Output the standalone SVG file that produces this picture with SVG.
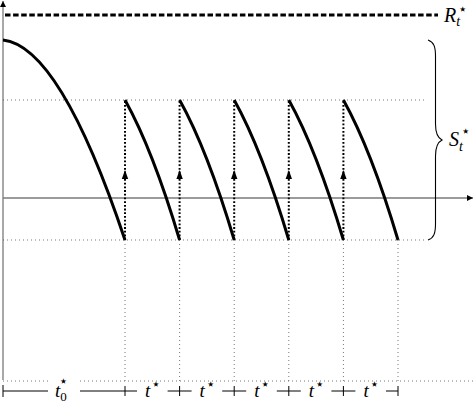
<svg xmlns="http://www.w3.org/2000/svg" width="474" height="413" viewBox="0 0 474 413">
<defs>
<style>
.axis{stroke:#7a7a7a;stroke-width:1.3;fill:none}
.curve{stroke:#000;stroke-width:3;fill:none;stroke-linecap:butt}
.thin{stroke:#555;stroke-width:0.9;fill:none;stroke-dasharray:0.9 3.1}
.jump{stroke:#000;stroke-width:2;fill:none;stroke-dasharray:1.8 1.9}
.tl{stroke:#000;stroke-width:1;fill:none}
.lbl{font-family:"Liberation Serif","DejaVu Serif",serif;font-style:italic;fill:#000}
.st{font-family:"DejaVu Sans",sans-serif;font-style:normal;font-size:15px}
</style>
<marker id="ah" viewBox="0 0 10 10" refX="10" refY="5" markerWidth="6" markerHeight="6" markerUnits="userSpaceOnUse" orient="auto">
<path d="M0,0 L10,5 L0,10 Z" fill="#000"/>
</marker>
<path id="up" d="M0,0 L-3.2,9 L3.2,9 Z" fill="#000"/>
</defs>

<g id="axes">
<line class="axis" x1="3" y1="380" x2="3" y2="1" marker-end="url(#ah)"/>
<line class="axis" x1="3" y1="198" x2="473" y2="198" marker-end="url(#ah)"/>
</g>

<g id="guides">
<line class="thin" x1="3" y1="100" x2="426" y2="100"/>
<line class="thin" x1="3" y1="240" x2="426" y2="240"/>
<line class="thin" x1="125" y1="240" x2="125" y2="381"/>
<line class="thin" x1="179.6" y1="240" x2="179.6" y2="381"/>
<line class="thin" x1="234.2" y1="240" x2="234.2" y2="381"/>
<line class="thin" x1="288.8" y1="240" x2="288.8" y2="381"/>
<line class="thin" x1="343.4" y1="240" x2="343.4" y2="381"/>
<line class="thin" x1="398" y1="240" x2="398" y2="381"/>
<line class="thin" x1="3" y1="381" x2="50" y2="381"/>
<line class="thin" x1="80" y1="381" x2="474" y2="381"/>
</g>

<g id="R-line">
<line x1="5" y1="15" x2="438" y2="15" stroke="#000" stroke-width="3" stroke-dasharray="5.5 2.6"/>
<text class="lbl" x="444" y="22" font-size="20">R<tspan font-size="14" dy="4">t</tspan><tspan class="st" dx="-2" dy="-12">⋆</tspan></text>
</g>

<g id="curves">
<path class="curve" d="M3,40 Q60,46 125,240"/>
<path class="curve" d="M125,100 Q152.7,149.7 179.6,240"/>
<path class="curve" d="M179.6,100 Q207.3,149.7 234.2,240"/>
<path class="curve" d="M234.2,100 Q261.9,149.7 288.8,240"/>
<path class="curve" d="M288.8,100 Q316.5,149.7 343.4,240"/>
<path class="curve" d="M343.4,100 Q371.1,149.7 398,240"/>
</g>

<g id="jumps">
<line class="jump" x1="125" y1="240" x2="125" y2="100"/>
<line class="jump" x1="179.6" y1="240" x2="179.6" y2="100"/>
<line class="jump" x1="234.2" y1="240" x2="234.2" y2="100"/>
<line class="jump" x1="288.8" y1="240" x2="288.8" y2="100"/>
<line class="jump" x1="343.4" y1="240" x2="343.4" y2="100"/>
<use href="#up" x="125" y="170"/>
<use href="#up" x="179.6" y="170"/>
<use href="#up" x="234.2" y="170"/>
<use href="#up" x="288.8" y="170"/>
<use href="#up" x="343.4" y="170"/>
</g>

<g id="S-brace">
<path d="M428,40 C434,42 435.5,47 435.5,56 L435.5,124 C435.5,133 438,138 442,140 C438,142 435.5,147 435.5,156 L435.5,224 C435.5,233 434,238 428,240" stroke="#000" stroke-width="1.1" fill="none"/>
<text class="lbl" x="449" y="146" font-size="20">S<tspan font-size="14" dy="5">t</tspan><tspan class="st" dx="-2" dy="-15">⋆</tspan></text>
</g>

<g id="timeline">
<line class="tl" x1="3" y1="385" x2="3" y2="397"/>
<line class="tl" x1="3" y1="391" x2="48" y2="391"/>
<line class="tl" x1="80" y1="391" x2="137" y2="391"/>
<line class="tl" x1="125" y1="386" x2="125" y2="396"/>
<line class="tl" x1="167.6" y1="391" x2="191.6" y2="391"/>
<line class="tl" x1="179.6" y1="386" x2="179.6" y2="396"/>
<line class="tl" x1="222.2" y1="391" x2="246.2" y2="391"/>
<line class="tl" x1="234.2" y1="386" x2="234.2" y2="396"/>
<line class="tl" x1="276.8" y1="391" x2="300.8" y2="391"/>
<line class="tl" x1="288.8" y1="386" x2="288.8" y2="396"/>
<line class="tl" x1="331.4" y1="391" x2="355.4" y2="391"/>
<line class="tl" x1="343.4" y1="386" x2="343.4" y2="396"/>
<line class="tl" x1="386" y1="391" x2="398" y2="391"/>
<line class="tl" x1="398" y1="386" x2="398" y2="396"/>
<text class="lbl" x="55" y="397" font-size="19">t<tspan font-size="13" font-style="normal" dy="4">0</tspan><tspan class="st" dx="-8" dy="-15">⋆</tspan></text>
<text class="lbl" x="145" y="397" font-size="19">t<tspan class="st" dx="1" dy="-8">⋆</tspan></text>
<text class="lbl" x="199.6" y="397" font-size="19">t<tspan class="st" dx="1" dy="-8">⋆</tspan></text>
<text class="lbl" x="254.2" y="397" font-size="19">t<tspan class="st" dx="1" dy="-8">⋆</tspan></text>
<text class="lbl" x="308.8" y="397" font-size="19">t<tspan class="st" dx="1" dy="-8">⋆</tspan></text>
<text class="lbl" x="363.4" y="397" font-size="19">t<tspan class="st" dx="1" dy="-8">⋆</tspan></text>
</g>
</svg>
